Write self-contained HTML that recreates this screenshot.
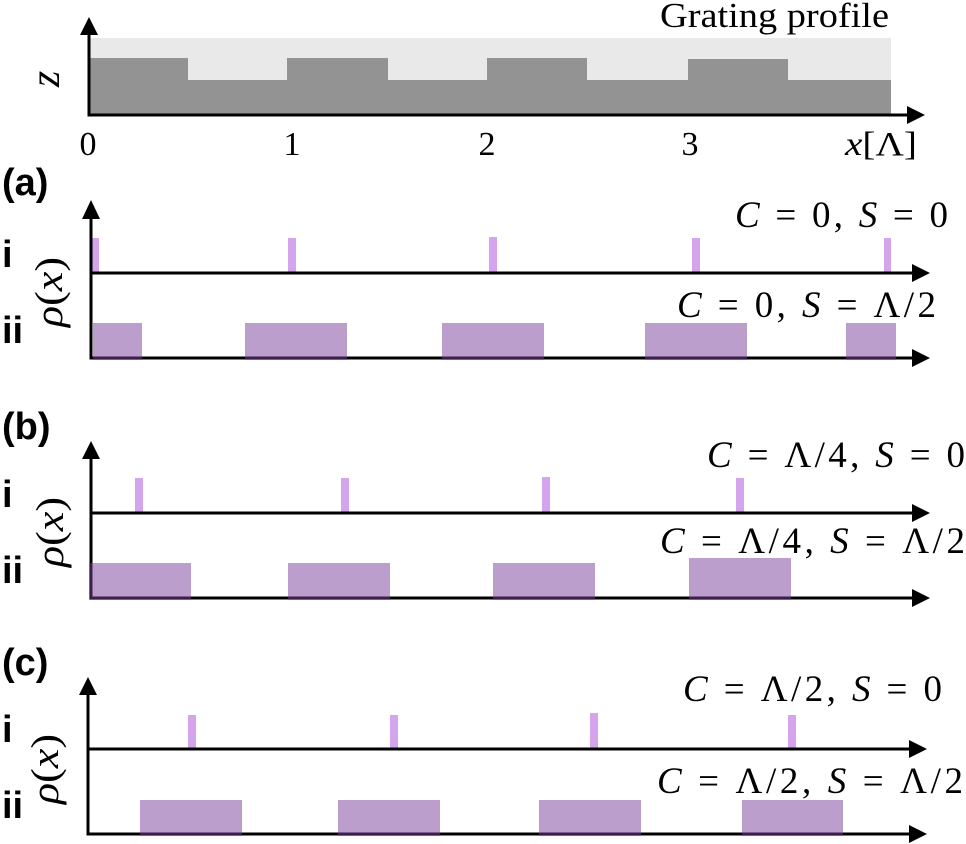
<!DOCTYPE html>
<html>
<head>
<meta charset="utf-8">
<style>
html,body{margin:0;padding:0;background:#fff;}
svg{display:block;}
.ser{font-family:"Liberation Serif","DejaVu Serif",serif;}
.lab{font-family:"Liberation Sans",sans-serif;font-weight:bold;font-size:38px;fill:#000;}
</style>
</head>
<body>
<svg width="966" height="844" viewBox="0 0 966 844" xmlns="http://www.w3.org/2000/svg">
<!-- ===== Grating profile ===== -->
<rect x="89" y="38" width="802" height="77" fill="#e9e9e9"/>
<rect x="89" y="80" width="802" height="35" fill="#939393"/>
<rect x="89" y="58" width="99" height="22" fill="#939393"/>
<rect x="287" y="58" width="101" height="22" fill="#939393"/>
<rect x="487" y="58" width="100" height="22" fill="#939393"/>
<rect x="688" y="59" width="100" height="21" fill="#939393"/>
<line x1="89" y1="34" x2="89" y2="116.5" stroke="#000" stroke-width="3"/>
<polygon points="89,17 80,35 98,35" fill="#000"/>
<line x1="87.5" y1="115" x2="909" y2="115" stroke="#000" stroke-width="3"/>
<polygon points="925,115 907,106 907,124" fill="#000"/>
<text class="ser" x="660" y="27" font-size="35" textLength="229" lengthAdjust="spacingAndGlyphs">Grating profile</text>
<text class="ser" font-size="34" text-anchor="middle" y="155"><tspan x="88">0</tspan><tspan x="292">1</tspan><tspan x="487">2</tspan><tspan x="690">3</tspan></text>
<text class="ser" x="845" y="155" font-size="34" textLength="72" lengthAdjust="spacingAndGlyphs"><tspan font-style="italic">x</tspan>[Λ]</text>
<text class="ser" font-size="42" font-style="italic" transform="translate(59,79) rotate(-90)" text-anchor="middle">z</text>

<!-- ===== Panel (a) ===== -->
<text class="lab" x="2" y="195">(a)</text>
<text class="lab" x="2" y="267">i</text>
<text class="lab" x="2" y="343">ii</text>
<text class="ser" font-size="39" transform="translate(62,292) rotate(-90)" text-anchor="middle" textLength="70" lengthAdjust="spacingAndGlyphs"><tspan font-style="italic">ρ</tspan>(<tspan font-style="italic">x</tspan>)</text>
<g fill="#d4a5ec">
<rect x="92" y="238" width="7" height="34"/>
<rect x="288" y="238" width="8" height="34"/>
<rect x="489" y="237" width="8" height="35"/>
<rect x="692" y="238" width="8" height="34"/>
<rect x="884" y="238" width="7" height="34"/>
</g>
<line x1="91" y1="217" x2="91" y2="359.5" stroke="#000" stroke-width="3"/>
<polygon points="91,200 82,219 100,219" fill="#000"/>
<line x1="91" y1="273" x2="914" y2="273" stroke="#000" stroke-width="3"/>
<polygon points="930,273 912,264 912,282" fill="#000"/>
<line x1="89.5" y1="358" x2="914" y2="358" stroke="#000" stroke-width="3"/>
<polygon points="930,358 912,349 912,367" fill="#000"/>
<g fill="rgb(120,61,152)" fill-opacity="0.5">
<rect x="93" y="323" width="49" height="37"/>
<rect x="245" y="323" width="102" height="37"/>
<rect x="442" y="323" width="102" height="37"/>
<rect x="645" y="323" width="102" height="37"/>
<rect x="846" y="323" width="50" height="37"/>
</g>
<text class="ser" x="735" y="227" font-size="37" textLength="213" lengthAdjust="spacing"><tspan font-style="italic">C</tspan> = 0, <tspan font-style="italic">S</tspan> = 0</text>
<text class="ser" x="677" y="317" font-size="37" textLength="259" lengthAdjust="spacing"><tspan font-style="italic">C</tspan> = 0, <tspan font-style="italic">S</tspan> = Λ/2</text>

<!-- ===== Panel (b) ===== -->
<text class="lab" x="2" y="439">(b)</text>
<text class="lab" x="2" y="507">i</text>
<text class="lab" x="2" y="583">ii</text>
<text class="ser" font-size="39" transform="translate(63,532) rotate(-90)" text-anchor="middle" textLength="70" lengthAdjust="spacingAndGlyphs"><tspan font-style="italic">ρ</tspan>(<tspan font-style="italic">x</tspan>)</text>
<g fill="#d4a5ec">
<rect x="135" y="478" width="8" height="34"/>
<rect x="341" y="478" width="8" height="34"/>
<rect x="542" y="477" width="8" height="35"/>
<rect x="736" y="478" width="8" height="34"/>
</g>
<line x1="91" y1="457" x2="91" y2="599.5" stroke="#000" stroke-width="3"/>
<polygon points="91,441 82,459 100,459" fill="#000"/>
<line x1="91" y1="513" x2="914" y2="513" stroke="#000" stroke-width="3"/>
<polygon points="930,513 912,504 912,522" fill="#000"/>
<line x1="89.5" y1="598" x2="914" y2="598" stroke="#000" stroke-width="3"/>
<polygon points="930,598 912,589 912,607" fill="#000"/>
<g fill="rgb(120,61,152)" fill-opacity="0.5">
<rect x="89" y="563" width="102" height="37"/>
<rect x="288" y="563" width="102" height="37"/>
<rect x="493" y="563" width="102" height="37"/>
<rect x="689" y="558" width="102" height="42"/>
</g>
<text class="ser" x="707" y="467" font-size="37" textLength="258" lengthAdjust="spacing"><tspan font-style="italic">C</tspan> = Λ/4, <tspan font-style="italic">S</tspan> = 0</text>
<text class="ser" x="660" y="553" font-size="37" textLength="305" lengthAdjust="spacing"><tspan font-style="italic">C</tspan> = Λ/4, <tspan font-style="italic">S</tspan> = Λ/2</text>

<!-- ===== Panel (c) ===== -->
<text class="lab" x="2" y="675">(c)</text>
<text class="lab" x="2" y="742">i</text>
<text class="lab" x="2" y="818">ii</text>
<text class="ser" font-size="39" transform="translate(58,769) rotate(-90)" text-anchor="middle" textLength="70" lengthAdjust="spacingAndGlyphs"><tspan font-style="italic">ρ</tspan>(<tspan font-style="italic">x</tspan>)</text>
<g fill="#d4a5ec">
<rect x="188" y="715" width="8" height="33"/>
<rect x="390" y="715" width="8" height="33"/>
<rect x="590" y="713" width="8" height="35"/>
<rect x="788" y="715" width="8" height="33"/>
</g>
<line x1="88" y1="693" x2="88" y2="835.5" stroke="#000" stroke-width="3"/>
<polygon points="88,677 79,695 97,695" fill="#000"/>
<line x1="88" y1="749" x2="911" y2="749" stroke="#000" stroke-width="3"/>
<polygon points="927,749 909,740 909,758" fill="#000"/>
<line x1="86.5" y1="834" x2="911" y2="834" stroke="#000" stroke-width="3"/>
<polygon points="927,834 909,825 909,843" fill="#000"/>
<g fill="rgb(120,61,152)" fill-opacity="0.5">
<rect x="140" y="800" width="102" height="36"/>
<rect x="338" y="800" width="102" height="36"/>
<rect x="539" y="800" width="102" height="36"/>
<rect x="742" y="800" width="101" height="36"/>
</g>
<text class="ser" x="683" y="701" font-size="37" textLength="259" lengthAdjust="spacing"><tspan font-style="italic">C</tspan> = Λ/2, <tspan font-style="italic">S</tspan> = 0</text>
<text class="ser" x="657" y="793" font-size="37" textLength="306" lengthAdjust="spacing"><tspan font-style="italic">C</tspan> = Λ/2, <tspan font-style="italic">S</tspan> = Λ/2</text>
</svg>
</body>
</html>
